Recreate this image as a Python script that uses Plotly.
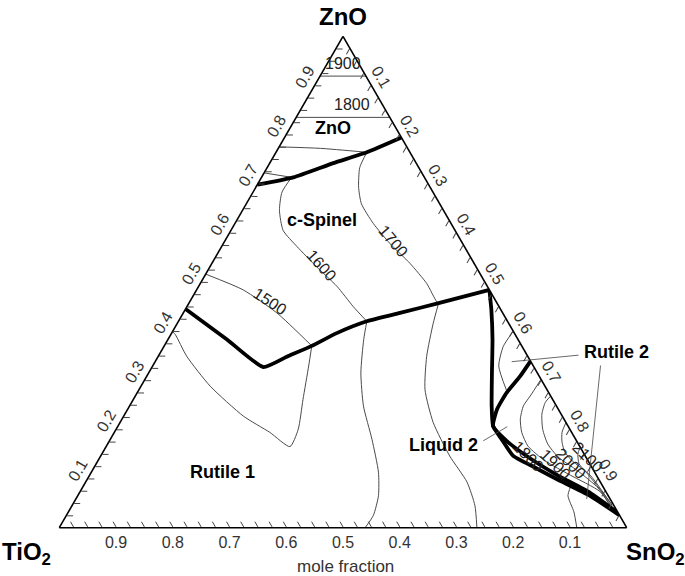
import plotly.graph_objects as go

# ---- data: mole fractions (a = ZnO, c = SnO2, TiO2 = remainder) ----
# thick phase boundaries
zno_bnd_a = [0.698, 0.713, 0.742, 0.764, 0.794]
zno_bnd_c = [0.000, 0.056, 0.112, 0.160, 0.206]

spinel_bnd_a = [0.445, 0.383, 0.327, 0.348, 0.370, 0.396, 0.420, 0.437, 0.457, 0.484]
spinel_bnd_c = [0.000, 0.104, 0.196, 0.227, 0.260, 0.291, 0.332, 0.382, 0.440, 0.516]

liq2_bnd_a = [0.484, 0.443, 0.383, 0.315, 0.248, 0.207, 0.174, 0.146, 0.122, 0.099, 0.065, 0.025]
liq2_bnd_c = [0.516, 0.540, 0.572, 0.605, 0.638, 0.661, 0.696, 0.727, 0.778, 0.827, 0.903, 0.975]

rut2_bnd_a = [0.339, 0.308, 0.275, 0.241, 0.207, 0.180, 0.148, 0.107, 0.071, 0.030]
rut2_bnd_c = [0.661, 0.658, 0.651, 0.651, 0.661, 0.695, 0.747, 0.824, 0.900, 0.970]

# thin isotherms
iso1900_top_a = [0.919, 0.919]
iso1900_top_c = [0.000, 0.081]
iso1800_top_a = [0.835, 0.835]
iso1800_top_c = [0.000, 0.165]

iso1700_zno_a = [0.775, 0.772, 0.764]
iso1700_zno_c = [0.000, 0.074, 0.160]
iso1700_sp_a = [0.764, 0.733, 0.693, 0.659, 0.619, 0.578, 0.538, 0.497, 0.460, 0.457]
iso1700_sp_c = [0.160, 0.163, 0.181, 0.203, 0.244, 0.294, 0.349, 0.399, 0.435, 0.440]
iso1700_r1_a = [0.457, 0.416, 0.349, 0.281, 0.214, 0.146, 0.093, 0.045, 0.000]
iso1700_r1_c = [0.440, 0.451, 0.473, 0.504, 0.552, 0.615, 0.672, 0.710, 0.736]

iso1600_zno_a = [0.722, 0.713]
iso1600_zno_c = [0.000, 0.053]
iso1600_sp_a = [0.713, 0.683, 0.646, 0.605, 0.572, 0.531, 0.491, 0.450, 0.420]
iso1600_sp_c = [0.053, 0.051, 0.065, 0.092, 0.133, 0.188, 0.244, 0.293, 0.332]
iso1600_r1_a = [0.420, 0.383, 0.315, 0.248, 0.180, 0.113, 0.065, 0.025, 0.000]
iso1600_r1_c = [0.332, 0.345, 0.374, 0.412, 0.461, 0.506, 0.530, 0.541, 0.539]

iso1500_sp_a = [0.516, 0.484, 0.437, 0.370]
iso1500_sp_c = [0.000, 0.082, 0.165, 0.260]
iso1500_r1_a = [0.370, 0.329, 0.261, 0.200, 0.165, 0.194, 0.227, 0.288, 0.349, 0.393, 0.399]
iso1500_r1_c = [0.260, 0.275, 0.299, 0.321, 0.324, 0.274, 0.211, 0.122, 0.050, 0.008, 0.000]

iso_liq2_a = [0.399, 0.369, 0.329, 0.280]
iso_liq2_c = [0.600, 0.598, 0.610, 0.648]

iso1800_r2_a = [0.302, 0.268, 0.248, 0.221, 0.194, 0.166, 0.136, 0.107, 0.073, 0.035]
iso1800_r2_c = [0.698, 0.696, 0.694, 0.702, 0.718, 0.743, 0.788, 0.847, 0.917, 0.958]
iso1900_r2_a = [0.268, 0.255, 0.231, 0.200, 0.170, 0.144, 0.115, 0.081, 0.040]
iso1900_r2_c = [0.732, 0.729, 0.735, 0.752, 0.776, 0.807, 0.857, 0.909, 0.955]
iso2000_r2_a = [0.214, 0.194, 0.174, 0.154, 0.136, 0.107, 0.045]
iso2000_r2_c = [0.786, 0.789, 0.799, 0.814, 0.836, 0.882, 0.952]
iso2100_r2_a = [0.164, 0.150, 0.130, 0.109, 0.050]
iso2100_r2_c = [0.836, 0.839, 0.851, 0.877, 0.947]

iso1800_r1_a = [0.085, 0.065, 0.032, 0.000]
iso1800_r1_c = [0.859, 0.864, 0.891, 0.912]

# ticks
major_ticks = [0.1, 0.2, 0.3, 0.4, 0.5, 0.6, 0.7, 0.8, 0.9]
major_labels = ["0.1", "0.2", "0.3", "0.4", "0.5", "0.6", "0.7", "0.8", "0.9"]
minor_step = 0.025

tick_vals = [round(i * minor_step, 3) for i in range(1, 40)]
tick_text = [major_labels[major_ticks.index(v)] if v in major_ticks else "" for v in tick_vals]

THIN = dict(color="#4a4a4a", width=1)
THICK = dict(color="black", width=3.8)

fig = go.Figure()

thin_sets = [
    (iso1900_top_a, iso1900_top_c), (iso1800_top_a, iso1800_top_c),
    (iso1700_zno_a, iso1700_zno_c), (iso1700_sp_a, iso1700_sp_c), (iso1700_r1_a, iso1700_r1_c),
    (iso1600_zno_a, iso1600_zno_c), (iso1600_sp_a, iso1600_sp_c), (iso1600_r1_a, iso1600_r1_c),
    (iso1500_sp_a, iso1500_sp_c), (iso1500_r1_a, iso1500_r1_c),
    (iso_liq2_a, iso_liq2_c),
    (iso1800_r2_a, iso1800_r2_c), (iso1900_r2_a, iso1900_r2_c),
    (iso2000_r2_a, iso2000_r2_c), (iso2100_r2_a, iso2100_r2_c),
    (iso1800_r1_a, iso1800_r1_c),
]
for a, c in thin_sets:
    fig.add_trace(go.Scatterternary(a=a, c=c, mode="lines", line=dict(**THIN, shape="spline", smoothing=0.6),
                                    showlegend=False, hoverinfo="skip"))

thick_sets = [
    (zno_bnd_a, zno_bnd_c), (spinel_bnd_a, spinel_bnd_c),
    (liq2_bnd_a, liq2_bnd_c), (rut2_bnd_a, rut2_bnd_c),
]
for a, c in thick_sets:
    fig.add_trace(go.Scatterternary(a=a, c=c, mode="lines", line=dict(**THICK, shape="spline", smoothing=0.5),
                                    showlegend=False, hoverinfo="skip"))

FONT = "Liberation Sans, Arial, sans-serif"
axis_common = dict(
    min=0, linecolor="black", linewidth=1.6, showgrid=False,
    ticks="inside", ticklen=6, tickwidth=1, tickcolor="#444",
    tickmode="array", tickvals=tick_vals, ticktext=tick_text,
    tickfont=dict(family=FONT, size=16, color="#333"),
    title=dict(text=""),
)

W, H = 685, 576
fig.update_layout(
    width=W, height=H,
    margin=dict(l=0, r=0, t=0, b=0),
    paper_bgcolor="white",
    font=dict(family=FONT, color="#222"),
    ternary=dict(
        sum=1,
        bgcolor="white",
        domain=dict(x=[59.3 / W, 626.7 / W], y=[1 - 529 / H, 1 - 35 / H]),
        aaxis=dict(axis_common, tickangle=-60),
        baxis=dict(axis_common, tickangle=0),
        caxis=dict(axis_common, tickangle=60),
    ),
)


def px(x, y):
    return x / W, 1 - y / H


def label(text, x, y, size=16, angle=0, bold=False, color="#222"):
    xp, yp = px(x, y)
    fig.add_annotation(x=xp, y=yp, xref="paper", yref="paper", text=f"<b>{text}</b>" if bold else text,
                       showarrow=False, textangle=angle, xanchor="center", yanchor="middle",
                       font=dict(size=size, color=color))


def leader(x_tail, y_tail, x_head, y_head):
    xp, yp = px(x_head, y_head)
    fig.add_annotation(x=xp, y=yp, xref="paper", yref="paper", text="", showarrow=True,
                       ax=x_tail - x_head, ay=y_tail - y_head, arrowhead=0, arrowwidth=0.8,
                       arrowcolor="#444", standoff=0, startstandoff=0)


# corner titles
label("ZnO", 343, 16, size=24, bold=True, color="black")
label("TiO<sub>2</sub>", 26, 553, size=24, bold=True, color="black")
label("SnO<sub>2</sub>", 655, 553, size=24, bold=True, color="black")
label("mole fraction", 345, 566, size=17, color="#333")

# isotherm labels
label("1900", 343.3, 63.3)
label("1800", 351.7, 105)
label("1700", 393.3, 241.7, angle=50)
label("1600", 321.7, 265, angle=48)
label("1500", 270, 301.7, angle=33)
label("1800", 528.3, 456.7, angle=45)
label("1900", 555.7, 464, angle=45)
label("2000", 570.7, 463.3, angle=45)
label("2100", 588.3, 457.3, angle=45)

# phase labels
label("ZnO", 333.3, 128.3, size=18, bold=True, color="black")
label("c-Spinel", 321.7, 220, size=18, bold=True, color="black")
label("Rutile 1", 222, 472, size=18, bold=True, color="black")
label("Liquid 2", 443.5, 445, size=18, bold=True, color="black")
label("Rutile 2", 616, 351.7, size=18, bold=True, color="black")

leader(481.7, 441.7, 507.3, 426.7)
leader(580, 355, 511.7, 361.7)
leader(600.7, 364, 586.7, 499)

fig.write_html("out.html", config={"displayModeBar": False},
               post_script="document.body.style.margin='0';document.body.style.padding='0';")
